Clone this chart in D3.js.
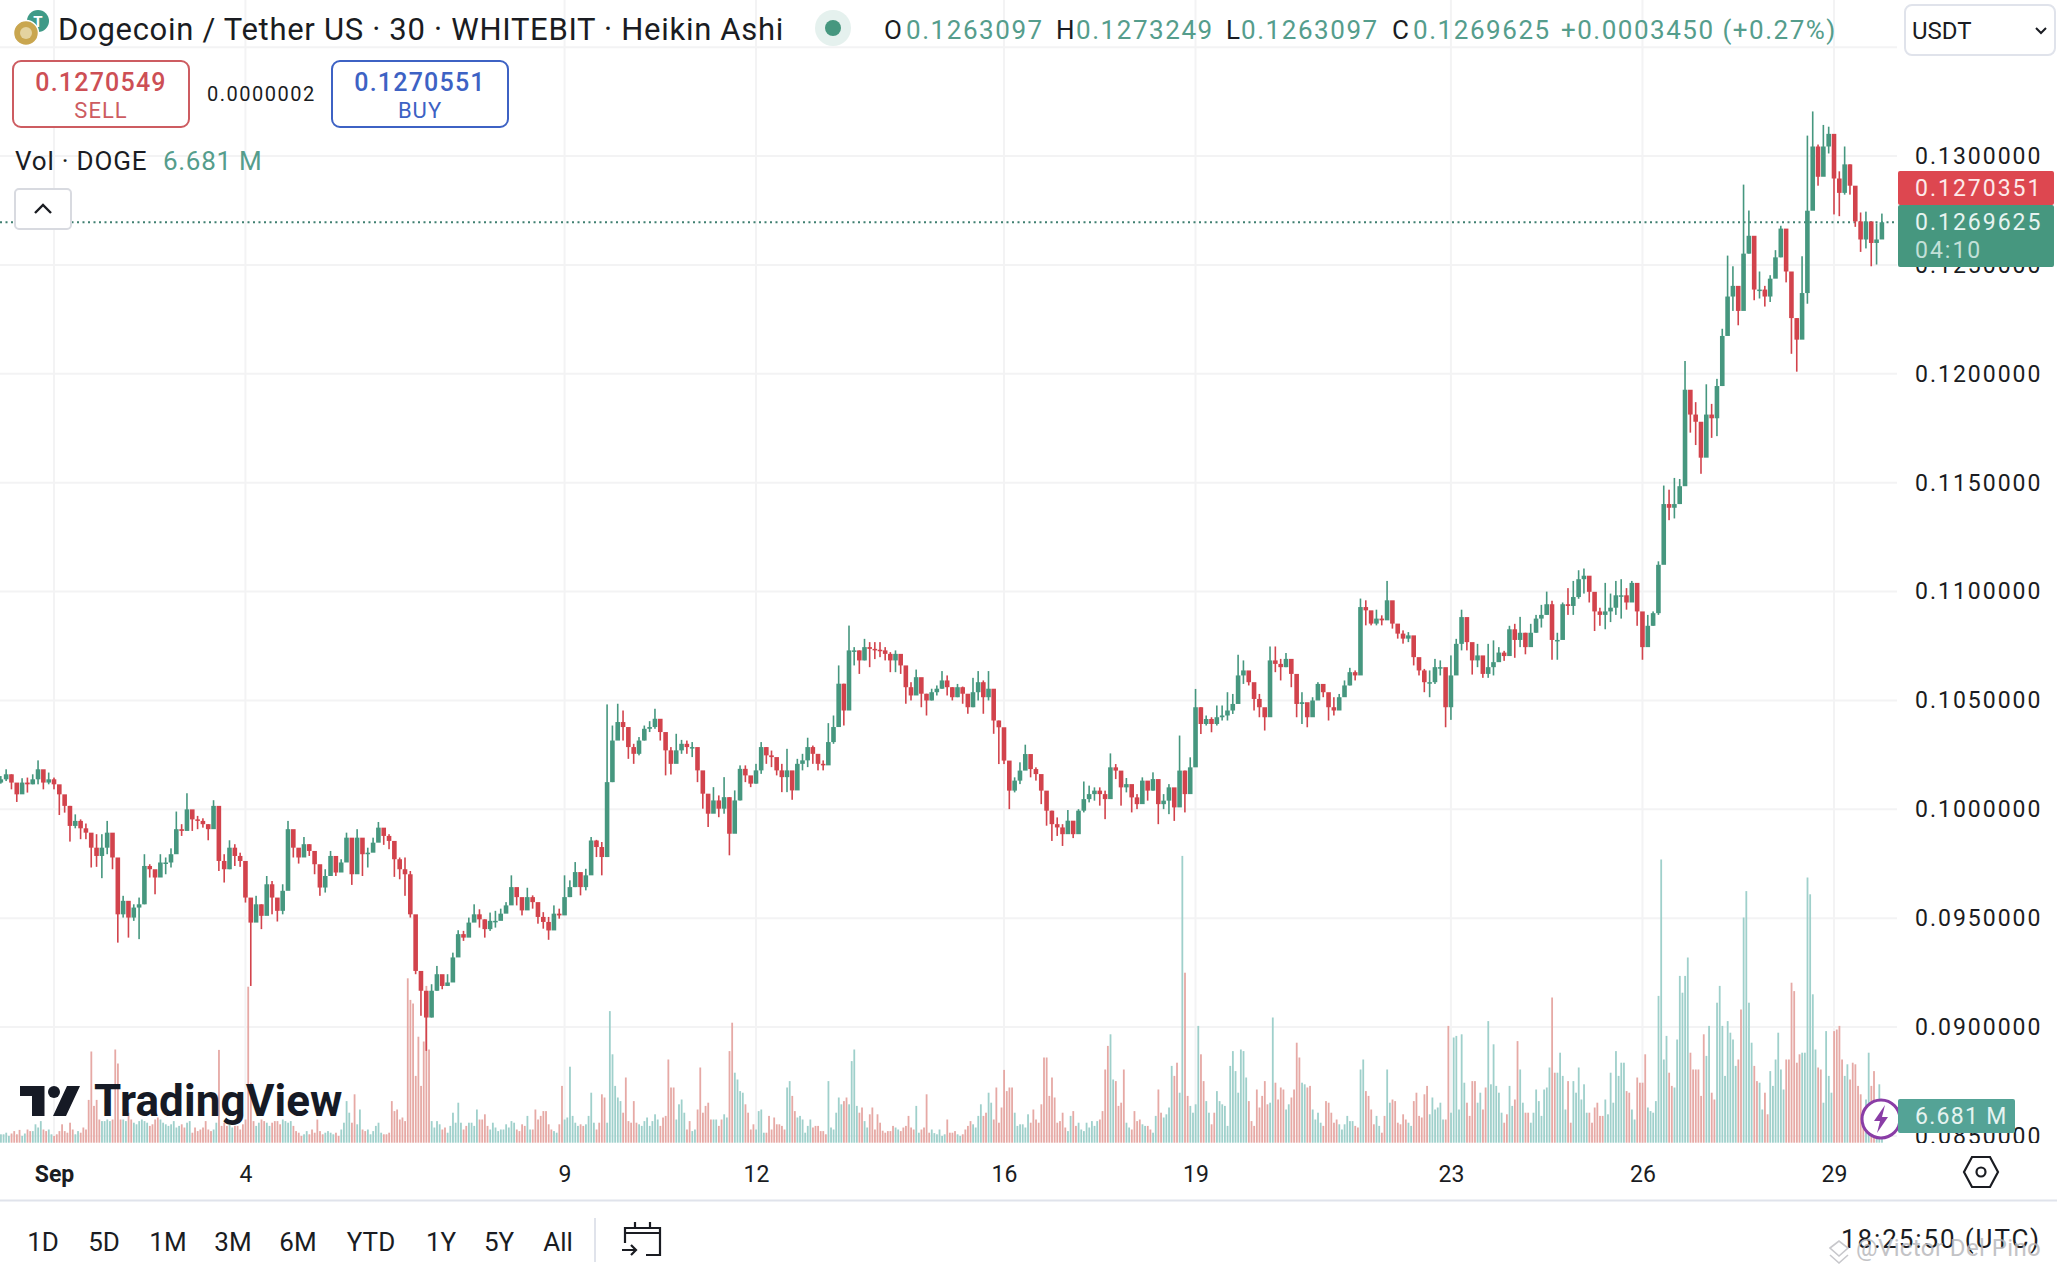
<!DOCTYPE html>
<html lang="en">
<head>
<meta charset="UTF-8">
<title>DOGE/USDT</title>
<script src="https://cdn.jsdelivr.net/npm/d3@7"></script>
<style>
  html, body { margin: 0; padding: 0; background: #fff; }
  svg { display: block; font-family: Roboto, sans-serif; }
</style>
</head>
<body>
<svg width="2057" height="1273"></svg>
<script>
// prices are in 1e-5 USDT, one entry per 2 hours from Aug 31 04:00 UTC
var closes = [
10138,10161,10123,10069,10123,10115,10138,10184,10123,10138,10115,10069,10016,9924,9947,9913,9893,9824,9786,9824,9893,9779,9518,9580,9503,9549,9564,9740,9725,9687,9756,9756,9794,9909,9901,10000,9954,9947,9932,9909,10016,9763,9725,9824,9786,9763,9595,9480,9564,9511,9656,9595,9534,9626,9909,9824,9779,9840,9809,9748,9641,9694,9786,9710,9756,9870,9702,9870,9794,9801,9847,9916,9878,9855,9771,9725,9702,9518,9258,9167,9044,9167,9243,9189,9205,9320,9427,9411,9480,9518,9495,9450,9488,9488,
9521,9559,9643,9597,9536,9597,9574,9506,9483,9444,9521,9513,9597,9643,9712,9643,9697,9857,9827,9781,10125,10316,10401,10378,10286,10255,10316,10370,10378,10416,10355,10271,10209,10271,10301,10286,10286,10179,10072,9980,10041,10003,10056,9888,10041,10186,10156,10118,10179,10286,10248,10240,10179,10148,10179,10087,10209,10225,10286,10255,10209,10202,10309,10378,10577,10454,10730,10730,10684,10745,10737,10733,10730,10714,10684,10714,10661,10561,10523,10607,10531,10500,10538,10554,10592,10561,10515,10561,10531,10469,10538,10584,10515,10554,10408,10377,
10224,10086,10132,10178,10254,10185,10162,10086,9994,9932,9917,9886,9948,9886,9994,10047,10070,10086,10070,10047,10193,10178,10101,10116,10055,10024,10132,10086,10139,10024,10040,10101,10009,10178,10070,10193,10469,10392,10415,10392,10423,10431,10454,10484,10615,10638,10584,10507,10469,10423,10684,10668,10653,10691,10622,10484,10492,10423,10500,10576,10538,10469,10454,10515,10569,10630,10615,10929,10914,10853,10876,10868,10960,10853,10807,10784,10799,10699,10638,10584,10584,10653,10653,10469,10615,10760,10883,10768,10684,10707,10622,10653,10676,
10720,10704,10827,10778,10811,10745,10811,10876,10893,10942,10778,10778,10942,10934,10975,11057,11073,10999,10909,10893,10909,10926,10983,10983,10950,11040,10909,10745,10843,10901,11123,11402,11385,11402,11484,11927,11813,11780,11615,11813,11796,11944,12174,12355,12404,12289,12552,12634,12387,12387,12355,12437,12535,12667,12470,12256,12157,12371,12749,13044,12905,13044,13102,12897,12831,12962,12864,12700,12617,12700,12601,12617,12696
];
var highs = [
10153,10184,10161,10115,10143,10146,10161,10225,10153,10169,10146,10107,10062,10016,9977,9954,9935,9886,9886,9886,9947,9886,9763,9603,9549,9564,9595,9794,9748,9717,9794,9779,9821,9990,9932,10074,9985,9970,9959,9932,10042,10000,9794,9858,9840,9801,9748,9564,9603,9564,9694,9671,9580,9656,9947,9886,9809,9873,9840,9786,9710,9725,9809,9740,9771,9893,9794,9909,9840,9824,9870,9942,9901,9886,9824,9779,9779,9717,9503,9220,9136,9197,9281,9228,9243,9342,9445,9442,9503,9564,9541,9495,9526,9534,
9544,9574,9697,9636,9590,9640,9605,9567,9528,9506,9559,9544,9697,9674,9758,9697,9727,9873,9860,9850,10482,10385,10485,10454,10370,10301,10332,10385,10405,10462,10408,10316,10286,10347,10319,10316,10309,10255,10148,10003,10102,10064,10148,10056,10087,10202,10202,10148,10209,10309,10286,10270,10225,10209,10278,10148,10232,10255,10329,10293,10240,10225,10396,10431,10661,10577,10844,10745,10730,10783,10768,10768,10768,10745,10722,10730,10707,10630,10584,10642,10576,10531,10554,10569,10635,10615,10561,10576,10564,10515,10604,10635,10592,10635,10531,10408,
10346,10193,10147,10216,10297,10239,10193,10147,10063,9994,9963,9932,9997,9932,10001,10128,10109,10101,10101,10086,10257,10208,10155,10144,10109,10070,10147,10116,10170,10116,10070,10116,10070,10339,10178,10239,10553,10469,10431,10423,10477,10477,10538,10530,10710,10684,10622,10561,10530,10454,10748,10748,10691,10718,10661,10607,10538,10484,10515,10584,10561,10515,10515,10530,10592,10650,10638,10968,10960,10891,10917,10891,11049,10952,10845,10822,10814,10784,10691,10645,10638,10691,10684,10638,10707,10783,10917,10825,10737,10760,10699,10760,10776,
10745,10728,10843,10852,10884,10811,10852,10893,10939,11000,10958,10811,10950,11016,11049,11098,11106,11049,10991,10926,11040,10991,11049,11057,11016,11049,11032,10860,10893,10909,11139,11487,11468,11522,11517,12059,11862,11870,11698,11952,11862,11977,12207,12543,12494,12379,12869,12750,12601,12470,12404,12453,12568,12680,12609,12420,12256,12540,13094,13205,13053,13143,13135,13012,12930,13044,12962,12847,12741,12745,12691,12691,12736
];
var lows = [
10118,10130,10092,10034,10084,10077,10115,10115,10092,10115,10092,9974,9985,9852,9913,9863,9863,9733,9736,9684,9794,9725,9388,9503,9411,9488,9404,9564,9687,9610,9690,9702,9733,9824,9878,9932,9901,9909,9916,9858,9932,9717,9664,9725,9740,9736,9572,9189,9503,9450,9557,9518,9485,9518,9702,9779,9751,9786,9786,9702,9603,9618,9702,9694,9725,9771,9653,9763,9694,9733,9812,9855,9837,9817,9690,9679,9603,9503,9243,9052,8891,9044,9167,9174,9189,9258,9365,9396,9450,9488,9457,9411,9442,9457,
9493,9536,9567,9559,9513,9544,9544,9475,9452,9401,9467,9498,9544,9597,9643,9605,9628,9750,9781,9697,9781,10125,10347,10316,10232,10209,10248,10316,10355,10370,10316,10156,10160,10240,10255,10255,10240,10125,10003,9919,10003,9964,9980,9789,9934,10041,10125,10102,10118,10163,10209,10194,10156,10079,10079,10044,10125,10179,10194,10209,10179,10179,10232,10301,10431,10385,10469,10661,10622,10684,10653,10690,10699,10684,10630,10630,10622,10485,10500,10546,10469,10431,10500,10523,10554,10523,10500,10515,10485,10439,10469,10500,10439,10500,10347,10208,
10208,10001,10078,10116,10193,10147,10132,10024,9925,9855,9878,9832,9894,9868,9925,9986,10032,10040,10017,9955,10055,10139,10017,10078,9986,10001,10047,10040,10086,9932,10001,9978,9947,10024,9986,10132,10239,10346,10385,10354,10385,10408,10408,10438,10523,10576,10569,10454,10423,10362,10469,10630,10592,10653,10561,10423,10392,10377,10454,10515,10515,10408,10431,10477,10530,10569,10592,10684,10845,10845,10845,10845,10876,10830,10784,10761,10768,10661,10615,10538,10515,10576,10615,10377,10411,10676,10730,10730,10619,10653,10604,10604,10615,
10687,10682,10728,10696,10745,10712,10753,10811,10835,10893,10687,10687,10794,10893,10893,10967,10991,10950,10819,10843,10827,10860,10893,10876,10917,10958,10843,10687,10802,10843,10893,11238,11328,11336,11402,11615,11730,11673,11541,11665,11706,11714,11944,12231,12289,12223,12330,12552,12338,12346,12309,12330,12453,12535,12420,12092,12010,12207,12322,12864,12864,12979,13012,12732,12724,12823,12823,12675,12560,12576,12494,12502,12626
];
// volume in millions of DOGE, one entry per hour over the same span
var volumes = [
2.1,2.1,2.5,1.7,2.3,2.9,2.1,3.2,1.7,2.3,3.3,2.9,2.9,4.6,3.8,5.4,3.3,2.9,3.3,2.1,1.7,2.1,2.9,4.6,2.9,2.5,5,3.3,2.1,2.9,2.5,3.8,3.3,10.7,22.8,9.2,10.7,5.8,5.4,5.4,5.8,5.4,5.8,23.3,19.8,5.8,5.8,5.4,7.5,5.8,5,4.6,5.4,5.8,5.4,5,4.2,4.6,5.8,6.3,5.8,5,4.6,4.2,4.6,5.4,3.8,4.2,4.6,3.8,5,5.4,2.5,3.8,2.9,3.3,3.8,5.4,3.3,2.9,3.3,5,23.2,4.2,5,4.2,4.6,3.8,4.2,4.2,3.3,4.6,5.8,39,15,5.4,4.2,5,5.8,5.4,5,4.2,5,5.4,5.4,4.6,5.8,5.4,5,5.4,4.2,2.9,2.5,1.7,2.1,2.9,2.1,3.3,2.5,5.8,2.9,2.1,2.5,2.9,2.5,2.1,2.5,1.7,3.3,5,10.4,7.5,5,12.1,4.6,8.3,3.3,2.9,3.3,2.1,2.9,4.2,5,2.5,2.1,2.1,2.5,10.4,7.9,8.3,5.8,6.3,5.4,41.1,35.7,34.8,16.7,26.5,14.2,25.3,39.2,23.3,5.4,3.8,5.4,4.6,3.3,3.8,2.5,4.2,7.5,5,10,5,3.3,4.2,5,5,4.2,8.3,5.8,5.8,7.1,4.2,3.3,5,3.8,2.9,
3.3,3.3,4.6,3.8,5.4,5,3.3,2.9,4.6,4.2,6.7,3.3,3.3,8.3,5.8,6.7,7.9,7.9,4.6,3.3,2.9,2.5,4.6,14.2,5.8,6.3,19,6.7,5,4.2,4.6,4.2,4.6,6.7,12.5,5,3.3,5,12.1,11.3,5,32.9,22.1,14.2,11.3,10.4,7.5,16.3,5.4,5,10.4,5,4.6,4.2,5.4,6.3,4.2,5.4,7.1,5.8,4.2,6.3,6.7,20.8,13.8,13.8,5.8,9.6,10.8,7.5,3.3,5.4,2.9,3.3,8.3,18.8,7.5,9.2,10,5.8,5.8,5.8,4.2,5.8,7.1,6.3,22.9,30,17.5,15.8,12.9,12.5,9.6,7.5,3.3,4.6,3.3,7.9,8.3,2.5,2.5,6.7,3.3,6.3,4.6,4.6,4.2,3.3,13.8,15.4,11.7,7.9,6.3,6.7,5.8,2.5,4.2,5.8,3.8,4.2,4.2,2.9,2.9,2.1,15.4,3.8,3.3,7.5,11.3,9.6,10.4,11.3,9.6,20.4,23.3,9.2,7.5,8.8,5.4,3.8,7.1,8.8,3.3,7.1,5,3.0,2.5,2.9,2.9,4.2,3.8,3.3,2.9,3.8,4.2,6.7,3.8,3.3,9.2,2.5,3.3,3.8,12.1,2.5,3.3,2.4,2.1,3.3,1.7,2.1,5.8,2.5,2.5,2.9,2.1,1.7,2.1,3.3,4.2,5.4,4.6,3.8,6.7,9.6,6.7,7.5,12.5,10,5.8,13.8,5,
8.8,18.2,12.9,13.8,13.8,7.5,4.2,4.6,4.6,3.8,7.1,5,8.3,5.8,5,9.6,21.3,21.3,11.7,16.3,11.3,5,5.4,7.5,3.8,2.9,6.7,7.9,4.2,5,3.3,2.9,5,3.8,5.4,4.2,5.4,5.8,7.9,18.3,24.2,27.1,15.8,15.4,9.2,10,18.3,5,3.8,3.3,7.9,5.4,5.8,4.6,4.2,4.2,3.3,2.5,6.7,13.3,7.5,6.3,7.1,8.8,19.2,16.7,20,12.5,71.7,42.5,11.7,9.2,7.5,9.6,29.2,22.1,15.4,10.4,7.5,4.6,7.5,12.9,10.4,9.6,9.2,4.2,19.2,22.9,17.9,12.5,23.3,22.9,16.3,10.4,5.4,4.2,13.3,8.8,11.7,15.4,9.6,10,31.3,15,10.8,13.8,13.3,8.3,9.6,11.3,13.3,25,21.3,15,14.6,13.8,14.2,8.3,5.8,7.5,5,4.2,10.4,10,7.5,5,5.8,4.6,3.3,4.6,6.7,5.4,5.4,4.2,3.8,18.3,20.8,12.9,11.7,8.3,4.6,6.7,4.2,2.5,6.7,18.3,10,10.8,10.4,5,4.6,7.1,5.8,5,4.2,10.4,12.5,6.7,6.3,12.1,14.2,7.1,11.3,8.3,8.8,10,5.8,5.8,29.2,7.5,26.3,26.7,8.3,27.1,15,10,6.7,15.4,15.4,10,12.5,8.3,13.8,30.4,14.6,24.6,14.2,12.5,
7.5,5,7.1,14.2,9.2,10.8,25.4,18.3,10,7.5,7.5,5,7.5,13.3,10.4,6.7,13.3,13.8,18.8,36.3,17.5,17.5,22.5,16.7,8.3,15.4,5,15.4,12.5,18.8,10.8,14.6,7.5,7.5,5,8.8,10,6.7,6.7,10.8,7.1,17.5,10,22.9,16.7,20,20,12.9,12.5,8.3,5.8,16.3,15,15,22.1,8.8,7.9,7.5,10.4,36.7,70.8,20.8,26.7,17.5,14.2,13.8,25.8,41.7,37.5,41.7,46.3,22.5,18.3,18.3,18.3,11.7,27.1,21.7,29.2,12.5,10.8,35,39.2,29.2,16.7,30.4,27.5,25.8,19.2,20.8,33.3,56.3,62.9,35,25,19.2,15.4,15,8.3,12.5,7.1,17.9,14.2,20.8,27.5,18.3,13.3,20.8,20.8,40,37.9,20,22.1,22.5,22.5,66.3,62.1,37.1,23.3,18.8,18.3,10,27.9,16.7,12.5,27.9,28.3,29.2,20.8,16.7,19.6,15.8,20,19.6,14.2,12.1,8.3,10.8,22.5,14.2,17.9,10,14.6,6.681
];
var priceTicks = [0.13,0.125,0.12,0.115,0.11,0.105,0.1,0.095,0.09,0.085];
var gridPrices = priceTicks.concat([0.135]);
var dayTicks = [1,4,9,12,16,19,23,26,29];
var rangeButtons = [['1D',43],['5D',104],['1M',168],['3M',233],['6M',298],['YTD',371],['1Y',441],['5Y',499],['All',558]];

var GREEN = '#46977f', RED = '#d2434c', GREEN_TXT = '#559d8c', GRID = '#f3f3f4';
var HOUR = 3600000;
var start = Date.UTC(2024, 7, 31, 4);
function sep(d) { return new Date(Date.UTC(2024, 8, d)); }

var svg = d3.select('svg');

// Sep 12-16 is a little shorter on the reference, so the scale is piecewise
var x = d3.scaleUtc()
  .domain([sep(1), sep(12), sep(16), sep(29)])
  .range([54, 756, 1004, 1834]);
var y = d3.scaleLinear().domain([0.085, 0.135]).range([1136, 47.2]);
var yVol = d3.scaleLinear().domain([0, 70]).range([1142.7, 862.7]);

var candles = closes.map(function(c, i) {
  return {
    t: new Date(start + i * 2 * HOUR),
    open: (i ? closes[i - 1] : c - 15) / 1e5,
    close: c / 1e5,
    high: highs[i] / 1e5,
    low: lows[i] / 1e5
  };
});

function text(s, px, py, size, fill, opts) {
  opts = opts || {};
  return svg.append('text').text(s)
    .attr('x', px).attr('y', py)
    .attr('font-size', size).attr('fill', fill)
    .attr('text-anchor', opts.anchor || 'start')
    .attr('font-weight', opts.weight || 400)
    .attr('letter-spacing', opts.spacing || 0);
}

// grid
svg.append('g').selectAll('line').data(gridPrices).join('line')
  .attr('x1', 0).attr('x2', 1897)
  .attr('y1', function(d) { return y(d); }).attr('y2', function(d) { return y(d); })
  .attr('stroke', GRID).attr('stroke-width', 2);
svg.append('g').selectAll('line').data(dayTicks).join('line')
  .attr('x1', function(d) { return x(sep(d)); }).attr('x2', function(d) { return x(sep(d)); })
  .attr('y1', 0).attr('y2', 1143)
  .attr('stroke', GRID).attr('stroke-width', 2);

// volume
svg.append('g').selectAll('rect').data(volumes).join('rect')
  .attr('x', function(d, h) { return x(new Date(start + h * HOUR)) - 0.8; })
  .attr('width', 1.8)
  .attr('y', function(d) { return yVol(d); })
  .attr('height', function(d) { return yVol(0) - yVol(d); })
  .attr('fill', function(d, h) {
    var c = candles[Math.min(h >> 1, candles.length - 1)];
    return c.close >= c.open ? '#9fd0cb' : '#e6a9a5';
  });

// last price line
svg.append('line')
  .attr('x1', 0).attr('x2', 1897)
  .attr('y1', y(closes[closes.length - 1] / 1e5)).attr('y2', y(closes[closes.length - 1] / 1e5))
  .attr('stroke', '#3f7f70').attr('stroke-width', 2).attr('stroke-dasharray', '2 3.5');

// candles
var candle = svg.append('g').selectAll('g').data(candles).join('g')
  .attr('fill', function(d) { return d.close >= d.open ? GREEN : RED; });
candle.append('rect')
  .attr('x', function(d) { return x(d.t) - 0.8; }).attr('width', 1.6)
  .attr('y', function(d) { return y(d.high); })
  .attr('height', function(d) { return y(d.low) - y(d.high); });
candle.append('rect')
  .attr('x', function(d) { return x(d.t) - 2.3; }).attr('width', 4.6)
  .attr('y', function(d) { return y(Math.max(d.open, d.close)); })
  .attr('height', function(d) { return Math.max(1.5, Math.abs(y(d.open) - y(d.close))); });

// price axis, the last label is cut by the pane edge
svg.append('clipPath').attr('id', 'pane').append('rect').attr('width', 2057).attr('height', 1143);
var yAxis = svg.append('g')
  .attr('clip-path', 'url(#pane)')
  .attr('transform', 'translate(1915,0)')
  .call(d3.axisRight(y).tickValues(priceTicks).tickFormat(d3.format('.7f')).tickSize(0).tickPadding(0));
yAxis.select('.domain').remove();
yAxis.selectAll('text').attr('font-size', 23).attr('fill', '#1a1c22').attr('letter-spacing', 2)
  .attr('font-family', 'Roboto');

// time axis
var xAxis = svg.append('g')
  .attr('transform', 'translate(0,1166)')
  .call(d3.axisBottom(x).tickValues(dayTicks.map(sep)).tickSize(0).tickPadding(0)
    .tickFormat(function(d) { return d.getUTCDate() === 1 ? 'Sep' : d.getUTCDate(); }));
xAxis.select('.domain').remove();
xAxis.selectAll('text').attr('font-size', 23).attr('fill', '#1a1c22').attr('font-family', 'Roboto')
  .attr('font-weight', function(d) { return d.getUTCDate() === 1 ? 700 : 400; });

svg.append('line').attr('x1', 0).attr('x2', 2057).attr('y1', 1200.5).attr('y2', 1200.5)
  .attr('stroke', '#e0e3eb').attr('stroke-width', 2);

// header
svg.append('circle').attr('cx', 38).attr('cy', 21).attr('r', 11).attr('fill', '#3f9a87');
text('T', 38, 27, 15, '#fff', {anchor: 'middle', weight: 700});
svg.append('circle').attr('cx', 26).attr('cy', 33).attr('r', 12.5).attr('fill', '#c9a64f').attr('stroke', '#fff').attr('stroke-width', 1.5);
svg.append('circle').attr('cx', 26).attr('cy', 33).attr('r', 6).attr('fill', '#e4d3a0');
text('Dogecoin / Tether US · 30 · WHITEBIT · Heikin Ashi', 58, 40, 31, '#1a1c22', {spacing: 0.7});
svg.append('ellipse').attr('cx', 833).attr('cy', 28).attr('rx', 18).attr('ry', 18).attr('fill', '#e5f1ee');
svg.append('circle').attr('cx', 833).attr('cy', 28).attr('r', 8).attr('fill', GREEN);

[['O', 884, '0.1263097', 906], ['H', 1056, '0.1273249', 1076], ['L', 1226, '0.1263097', 1241], ['C', 1392, '0.1269625', 1413]]
  .forEach(function(o) {
    text(o[0], o[1], 39, 26, '#1a1c22');
    text(o[2], o[3], 39, 26, GREEN_TXT, {spacing: 1.55});
  });
text('+0.0003450 (+0.27%)', 1561, 39, 26, GREEN_TXT, {spacing: 1.5});

svg.append('rect').attr('x', 1905).attr('y', 5).attr('width', 150).attr('height', 50).attr('rx', 7)
  .attr('fill', '#fff').attr('stroke', '#e0e3eb').attr('stroke-width', 2);
text('USDT', 1912, 39, 24, '#1a1c22');
svg.append('path').attr('d', 'M2036 28l5 5 5-5').attr('fill', 'none').attr('stroke', '#1a1c22').attr('stroke-width', 2);

// sell / buy
svg.append('rect').attr('x', 13).attr('y', 61).attr('width', 176).attr('height', 66).attr('rx', 8)
  .attr('fill', '#fff').attr('stroke', '#cd5c61').attr('stroke-width', 2);
text('0.1270549', 101, 91, 25, '#cd4f55', {anchor: 'middle', weight: 500, spacing: 1.2});
text('SELL', 101, 118, 22, '#cd5c61', {anchor: 'middle', spacing: 1});
text('0.0000002', 207, 101, 20, '#1a1c22', {spacing: 1.5});
svg.append('rect').attr('x', 332).attr('y', 61).attr('width', 176).attr('height', 66).attr('rx', 8)
  .attr('fill', '#fff').attr('stroke', '#3d62c4').attr('stroke-width', 2);
text('0.1270551', 420, 91, 25, '#3d62c4', {anchor: 'middle', weight: 500, spacing: 1.2});
text('BUY', 420, 118, 22, '#3d62c4', {anchor: 'middle', spacing: 1});

text('Vol · DOGE', 15, 170, 26, '#1a1c22', {spacing: 0.8});
text('6.681 M', 163, 170, 26, GREEN_TXT, {spacing: 0.7});
svg.append('rect').attr('x', 15).attr('y', 189).attr('width', 56).attr('height', 40).attr('rx', 4)
  .attr('fill', '#fff').attr('stroke', '#d8dae0').attr('stroke-width', 2);
svg.append('path').attr('d', 'M35 213l8-8 8 8').attr('fill', 'none').attr('stroke', '#1a1c22').attr('stroke-width', 2.4);

// price flags
svg.append('rect').attr('x', 1898).attr('y', 171).attr('width', 156).attr('height', 34).attr('rx', 2).attr('fill', '#dd4750');
text('0.1270351', 1915, 196, 23, '#fde9e9', {spacing: 2});
svg.append('rect').attr('x', 1898).attr('y', 205).attr('width', 156).attr('height', 62).attr('rx', 2).attr('fill', '#46977f');
text('0.1269625', 1915, 230, 23, '#e6f3f0', {spacing: 2});
text('04:10', 1915, 258, 23, '#c2e0d8', {spacing: 2});

// volume flag and the lightning badge
svg.append('circle').attr('cx', 1881).attr('cy', 1119).attr('r', 19).attr('fill', '#fff').attr('stroke', '#8a3da6').attr('stroke-width', 3);
svg.append('path').attr('d', 'M1885 1105l-11 16h6l-3 12 11-16h-6z').attr('fill', '#8a3da6');
svg.append('rect').attr('x', 1898).attr('y', 1099).attr('width', 117).attr('height', 34).attr('rx', 2).attr('fill', '#54a396');
text('6.681 M', 1915, 1124, 23, '#e6f3f0', {spacing: 1.3});

// TradingView mark
svg.append('path').attr('fill', '#161a25')
  .attr('d', 'M20 1086h24.5v30h-12.5v-20h-12zM73 1086h7l0 0h0l-14 30h-13l14-30z');
svg.append('circle').attr('cx', 54).attr('cy', 1092).attr('r', 6).attr('fill', '#161a25');
text('TradingView', 94, 1116, 44, '#161a25', {weight: 700, spacing: 0.1});

// settings hexagon
svg.append('path').attr('d', 'M1972 1157h18l8 15-8 15h-18l-8-15z').attr('fill', 'none').attr('stroke', '#1a1c22').attr('stroke-width', 2.2);
svg.append('circle').attr('cx', 1981).attr('cy', 1172).attr('r', 4.5).attr('fill', 'none').attr('stroke', '#1a1c22').attr('stroke-width', 2.2);

// bottom bar
rangeButtons.forEach(function(b) { text(b[0], b[1], 1251, 26, '#1a1c22', {anchor: 'middle'}); });
svg.append('line').attr('x1', 595).attr('x2', 595).attr('y1', 1218).attr('y2', 1262).attr('stroke', '#e0e3eb').attr('stroke-width', 2);
svg.append('path').attr('fill', 'none').attr('stroke', '#1a1c22').attr('stroke-width', 2.2)
  .attr('d', 'M625 1243v-15h35v27h-14M625 1233h35M635 1222v6M650 1222v6M622 1250h14M631 1245l5 5-5 5');
text('18:25:50 (UTC)', 1841, 1248, 26, '#1a1c22', {spacing: 1.9});
text('@Victor Del Pino', 1856, 1256, 24, '#b9b9bd', {spacing: 0.4}).attr('opacity', 0.85);
svg.append('path').attr('fill', 'none').attr('stroke', '#c8c8cc').attr('stroke-width', 1.6)
  .attr('d', 'M1830 1248l9-7 9 7-9 8zM1830 1255l9 8 9-8');
</script>
</body>
</html>
